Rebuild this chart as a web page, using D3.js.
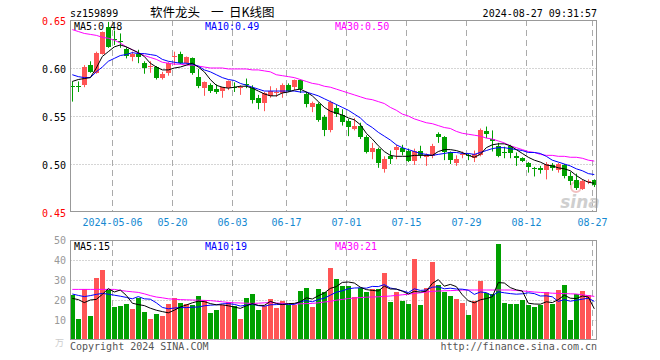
<!DOCTYPE html>
<html>
<head>
<meta charset="utf-8">
<script src="https://cdn.jsdelivr.net/npm/d3@7"></script>
<style>
  body { margin: 0; background: #fff; }
  svg { display: block; }
</style>
</head>
<body>
<div id="chart"></div>
<script>
// --- trading days shown (2024-04-22 .. 2024-08-27) ---
const dates = [
  "2024-04-22","2024-04-23","2024-04-24","2024-04-25","2024-04-26","2024-04-29","2024-04-30",
  "2024-05-06","2024-05-07","2024-05-08","2024-05-09","2024-05-10","2024-05-13","2024-05-14","2024-05-15","2024-05-16","2024-05-17",
  "2024-05-20","2024-05-21","2024-05-22","2024-05-23","2024-05-24","2024-05-27","2024-05-28","2024-05-29","2024-05-30","2024-05-31",
  "2024-06-03","2024-06-04","2024-06-05","2024-06-06","2024-06-07","2024-06-11","2024-06-12","2024-06-13","2024-06-14",
  "2024-06-17","2024-06-18","2024-06-19","2024-06-20","2024-06-21","2024-06-24","2024-06-25","2024-06-26","2024-06-27","2024-06-28",
  "2024-07-01","2024-07-02","2024-07-03","2024-07-04","2024-07-05","2024-07-08","2024-07-09","2024-07-10","2024-07-11","2024-07-12",
  "2024-07-15","2024-07-16","2024-07-17","2024-07-18","2024-07-19","2024-07-22","2024-07-23","2024-07-24","2024-07-25","2024-07-26",
  "2024-07-29","2024-07-30","2024-07-31","2024-08-01","2024-08-02","2024-08-05","2024-08-06","2024-08-07","2024-08-08","2024-08-09",
  "2024-08-12","2024-08-13","2024-08-14","2024-08-15","2024-08-16","2024-08-19","2024-08-20","2024-08-21","2024-08-22","2024-08-23",
  "2024-08-26","2024-08-27"
];

// --- OHLC ---
const open = [
  0.581,0.581,0.582,0.603,0.595,0.615,0.643,0.630,0.628,0.620,
  0.611,0.615,0.605,0.601,0.601,0.590,0.595,0.611,0.615,0.605,
  0.610,0.591,0.579,0.582,0.578,0.576,0.579,0.580,0.579,0.583,
  0.579,0.569,0.564,0.571,0.574,0.574,0.582,0.580,0.587,0.573,
  0.559,0.563,0.549,0.535,0.558,0.551,0.545,0.536,0.540,0.528,
  0.513,0.516,0.495,0.508,0.515,0.517,0.514,0.503,0.514,0.507,
  0.508,0.531,0.528,0.512,0.501,0.509,0.509,0.506,0.509,0.534,
  0.526,0.519,0.513,0.519,0.508,0.506,0.501,0.496,0.496,0.494,
  0.499,0.494,0.499,0.487,0.483,0.474,0.481,0.483
];
const high = [
  0.586,0.586,0.603,0.607,0.617,0.638,0.648,0.639,0.636,0.622,
  0.617,0.619,0.607,0.607,0.602,0.596,0.606,0.617,0.617,0.612,
  0.611,0.599,0.586,0.584,0.583,0.580,0.587,0.585,0.582,0.589,
  0.582,0.572,0.575,0.581,0.579,0.584,0.584,0.588,0.588,0.575,
  0.565,0.564,0.551,0.566,0.562,0.557,0.547,0.548,0.543,0.530,
  0.522,0.517,0.508,0.514,0.520,0.520,0.516,0.516,0.519,0.511,
  0.521,0.533,0.529,0.513,0.509,0.513,0.511,0.514,0.537,0.539,
  0.535,0.522,0.518,0.520,0.512,0.507,0.502,0.497,0.498,0.502,
  0.501,0.501,0.500,0.492,0.490,0.484,0.484,0.484
];
const low = [
  0.565,0.575,0.580,0.595,0.594,0.614,0.621,0.624,0.621,0.610,
  0.607,0.605,0.594,0.595,0.588,0.588,0.592,0.603,0.604,0.604,
  0.593,0.579,0.571,0.574,0.573,0.569,0.577,0.575,0.572,0.579,
  0.563,0.557,0.555,0.569,0.570,0.569,0.575,0.577,0.574,0.559,
  0.554,0.544,0.529,0.533,0.549,0.540,0.529,0.535,0.526,0.511,
  0.505,0.496,0.491,0.500,0.505,0.509,0.502,0.499,0.506,0.498,
  0.506,0.522,0.504,0.500,0.498,0.506,0.504,0.502,0.508,0.527,
  0.513,0.507,0.506,0.506,0.498,0.502,0.491,0.487,0.490,0.484,
  0.493,0.491,0.485,0.478,0.473,0.473,0.479,0.476
];
const close = [
  0.580,0.580,0.601,0.596,0.616,0.637,0.622,0.629,0.627,0.612,
  0.615,0.611,0.600,0.602,0.590,0.594,0.605,0.613,0.605,0.611,
  0.595,0.581,0.585,0.576,0.575,0.580,0.586,0.579,0.580,0.582,
  0.567,0.564,0.574,0.576,0.575,0.582,0.576,0.587,0.578,0.562,
  0.564,0.546,0.535,0.565,0.552,0.544,0.539,0.540,0.528,0.513,
  0.517,0.501,0.505,0.505,0.518,0.512,0.503,0.514,0.509,0.509,
  0.519,0.528,0.512,0.504,0.505,0.510,0.508,0.510,0.535,0.531,
  0.524,0.508,0.512,0.511,0.506,0.503,0.497,0.495,0.494,0.500,
  0.496,0.500,0.488,0.482,0.475,0.482,0.482,0.478
];

// --- price moving averages ---
const ma5 = [
  0.586,0.588,0.589,0.590,0.600,0.612,0.617,0.622,0.624,0.622,
  0.619,0.616,0.612,0.605,0.601,0.598,0.598,0.600,0.601,0.603,
  0.605,0.601,0.596,0.588,0.582,0.580,0.579,0.580,0.581,0.581,
  0.579,0.576,0.573,0.571,0.571,0.574,0.575,0.577,0.578,0.575,
  0.571,0.565,0.559,0.555,0.553,0.551,0.548,0.546,0.541,0.532,
  0.526,0.519,0.513,0.509,0.508,0.508,0.508,0.509,0.509,0.509,
  0.509,0.513,0.515,0.515,0.514,0.512,0.509,0.507,0.510,0.517,
  0.520,0.521,0.521,0.519,0.515,0.511,0.507,0.504,0.502,0.499,
  0.498,0.496,0.495,0.493,0.488,0.484,0.481,0.480
];
const ma10 = [
  0.593,0.591,0.590,0.590,0.596,0.601,0.607,0.610,0.613,0.614,
  0.616,0.615,0.615,0.614,0.613,0.609,0.607,0.606,0.605,0.605,
  0.604,0.602,0.598,0.596,0.593,0.590,0.588,0.587,0.584,0.582,
  0.580,0.578,0.576,0.576,0.576,0.576,0.576,0.576,0.575,0.575,
  0.573,0.571,0.568,0.565,0.562,0.559,0.556,0.552,0.548,0.542,
  0.538,0.533,0.529,0.525,0.520,0.517,0.515,0.513,0.511,0.510,
  0.509,0.510,0.511,0.512,0.512,0.511,0.511,0.510,0.512,0.514,
  0.516,0.517,0.517,0.516,0.515,0.514,0.512,0.512,0.511,0.508,
  0.504,0.502,0.500,0.498,0.495,0.493,0.490,0.489
];
const ma30 = [
  0.640,0.638,0.636,0.635,0.634,0.632,0.631,0.629,0.626,0.622,
  0.619,0.616,0.613,0.611,0.609,0.606,0.605,0.604,0.604,0.603,
  0.603,0.602,0.601,0.600,0.600,0.600,0.599,0.599,0.599,0.599,
  0.598,0.598,0.597,0.596,0.593,0.592,0.591,0.590,0.588,0.586,
  0.584,0.583,0.581,0.580,0.578,0.576,0.574,0.572,0.570,0.568,
  0.567,0.565,0.563,0.559,0.556,0.552,0.550,0.547,0.545,0.543,
  0.542,0.540,0.538,0.537,0.534,0.532,0.531,0.530,0.529,0.527,
  0.526,0.524,0.522,0.519,0.517,0.515,0.513,0.512,0.510,0.509,
  0.509,0.508,0.508,0.507,0.507,0.506,0.504,0.503
];

// --- volume (万) and its moving averages ---
const volume = [
  22.5,10.5,25.3,12,31.2,35,25,16.7,17,18,
  15.5,21.2,14.2,10.5,13,12.2,18,20.8,18.7,17.8,
  17.5,22,20,13.7,15,17.5,19.2,17,10.5,21.2,
  23,15,17,20.5,16.2,19.7,17.5,17.5,24.5,26.2,
  16.7,25.7,24.2,36.2,30.5,27.2,27,21.7,25.8,24.2,
  25.3,25.3,33.7,19.2,24.2,19.7,18,40.5,17.5,26.2,
  39.2,27.5,24.2,22,20.5,18.7,12.5,19.5,29.5,23.3,
  23,48,18.7,18,18,20,17.5,16.3,17.5,24.2,
  18,25,27.5,10,23,24.5,22.5,0.5
];
const volMa5 = [
  20.8,20.2,18.7,20,20.3,22.8,25.7,24,25,22.3,
  18.4,17.7,17.2,15.9,14.9,14.2,13.6,14.9,16.5,17.5,
  18.6,19.4,19.2,18.2,17.6,17.6,17.1,16.5,15.8,17.1,
  18.2,17.3,17.3,19.3,18.3,17.7,18.2,18.3,19.1,21.1,
  20.5,22.1,23.5,25.8,26.7,28.8,29,28.5,26.4,25.2,
  24.8,24.5,26.9,25.5,25.5,24.4,23,24.3,24,24.4,
  28.3,30.2,26.9,27.8,26.7,22.6,19.6,18.6,20.1,20.7,
  21.6,28.7,28.5,26.2,25.1,24.5,18.4,18,17.9,19.1,
  18.7,20.2,22.4,20.9,20.7,22,21.5,15.6
];
const volMa10 = [
  23,22.3,21.7,22.2,22.8,23.3,22.9,22.4,21.9,21.3,
  20.6,21.7,20.6,20.4,18.6,16.3,15.6,16,16.2,16.2,
  16.4,16.5,17.1,17.4,17.6,18.1,18.2,17.8,17,17.4,
  17.9,17.2,16.9,17.6,17.7,17.9,17.8,17.8,19.2,19.7,
  19.1,20.2,20.9,22.4,23.9,24.6,25.6,26,26.1,25.9,
  26.8,26.7,27.7,26,25.4,24.6,23.7,25.6,24.8,25,
  26.4,26.6,25.6,25.9,25.5,25.4,24.9,22.8,24,23.7,
  22.1,24.1,23.6,23.2,22.9,23.1,23.6,23.2,22,22.1,
  21.6,19.3,20.2,19.4,19.9,20.4,20.9,19.3
];
const volMa30 = [
  25.3,25.3,25.3,25.3,25.3,25.3,25.3,25.3,24.8,24.4,
  24.1,23.8,23.1,22.2,21.5,21.1,20.6,20.4,20.2,20.1,
  20,19.9,19.8,19.7,19.4,19.1,18.8,18.6,18.5,18.4,
  18.3,18.4,18.6,18.7,18.5,18.3,18.1,18,18.1,18.2,
  18.3,18.6,19,19.3,19.9,20.3,20.7,21,21.2,21.4,
  21.5,21.6,21.8,22,22.3,22.6,22.9,23.3,23.6,24,
  24.3,24.5,24.6,24.7,24.8,25,25,25,25,25,
  25,25,25,25,24.8,24.5,24.3,24,23.8,23.6,
  23.4,23.3,23.2,23.1,23,22.6,22.2,21.8
];

// --- axis ticks ---
const priceTicks = [0.65, 0.60, 0.55, 0.50, 0.45];
const volTicks = [50, 40, 30, 20, 10];
const dateTicks = ["2024-05-06","2024-05-20","2024-06-03","2024-06-17","2024-07-01","2024-07-15","2024-07-29","2024-08-12","2024-08-27"];
const dateTickLabels = ["2024-05-06","05-20","06-03","06-17","07-01","07-15","07-29","08-12","08-27"];

// --- setup ---
const W = 660, H = 360;
const mono = "'DejaVu Sans Mono', 'Liberation Mono', monospace";
const cjk = "'Noto Sans CJK SC', sans-serif";
const RED = "#ff5555", GREEN = "#00a000";

const svg = d3.select("#chart").append("svg")
  .attr("width", W).attr("height", H)
  .style("font-family", mono);

const x = d3.scaleBand().domain(dates).range([69.3, 597.3]).paddingInner(0.17).paddingOuter(0.085);
const cx = d => x(d) + x.bandwidth() / 2;
const yP = d3.scaleLinear().domain([0.45, 0.65]).range([212, 20]);
const yV = d3.scaleLinear().domain([0, 50]).range([340, 240]);

const L = 70.5, R = 596.5;

// --- header texts ---
svg.append("text").attr("x", 70).attr("y", 16.5).attr("font-size", "10px").attr("fill", "#000").text("sz159899");
// title is spread out like the original: name, dash, chart type
[[150, "软件龙头"], [211, "一"], [229, "日K线图"]].forEach(([tx, t]) => {
  svg.append("text").attr("x", tx).attr("y", 16.5)
    .attr("font-family", cjk).attr("font-size", "12.5px").attr("fill", "#000").text(t);
});
svg.append("text").attr("x", 597).attr("y", 16.5).attr("text-anchor", "end").attr("font-size", "10px").attr("fill", "#000")
  .text("2024-08-27 09:31:57");

// --- grids ---
function hGrid(scale, ticks, skip) {
  ticks.filter(t => !skip.includes(t)).forEach(t => {
    const yy = Math.round(scale(t)) + 0.5;
    svg.append("line").attr("x1", L).attr("x2", R).attr("y1", yy).attr("y2", yy)
      .attr("stroke", "#aaa").attr("stroke-dasharray", "1,2");
  });
}
hGrid(yP, priceTicks, [0.65, 0.45]);
hGrid(yV, volTicks, [50]);

dateTicks.forEach(d => {
  const gx = Math.floor(cx(d) - 1.6) + 0.5;
  [[20, 212], [240, 340]].forEach(([a, b]) => {
    svg.append("line").attr("x1", gx).attr("x2", gx).attr("y1", a).attr("y2", b)
      .attr("stroke", "#aaa").attr("stroke-dasharray", "6,4");
  });
});

// --- watermark ---
svg.append("circle").attr("cx", 576).attr("cy", 187).attr("r", 5)
  .attr("fill", "none").attr("stroke", "#f3c0c0").attr("stroke-width", 2);
svg.append("text").attr("x", 580).attr("y", 208).attr("text-anchor", "middle")
  .attr("font-family", "'DejaVu Sans', sans-serif").attr("font-style", "italic").attr("font-weight", "bold")
  .attr("font-size", "17px").attr("fill", "#cfcfcf").text("sina");

// --- MA legends (drawn under the marks) ---
const last = dates.length - 1;
function legend(y, items) {
  items.forEach(([lx, txt, col]) => {
    svg.append("text").attr("x", lx).attr("y", y).attr("font-size", "10px").attr("fill", col).text(txt);
  });
}
legend(29.5, [
  [74, "MA5:" + ma5[last].toFixed(2), "#000"],
  [205, "MA10:" + ma10[last].toFixed(2), "#0000ff"],
  [335, "MA30:" + ma30[last].toFixed(2), "#ff00ff"]
]);
legend(249.5, [
  [74, "MA5:" + Math.floor(volMa5[last]), "#000"],
  [205, "MA10:" + Math.floor(volMa10[last]), "#0000ff"],
  [335, "MA30:" + Math.floor(volMa30[last]), "#ff00ff"]
]);

// --- candles ---
const candles = svg.append("g");
dates.forEach((d, i) => {
  const col = close[i] > open[i] ? RED : GREEN;
  const wx = Math.floor(cx(d)) + 0.5;
  candles.append("line").attr("x1", wx).attr("x2", wx)
    .attr("y1", yP(high[i])).attr("y2", yP(low[i])).attr("stroke", col);
  const top = yP(Math.max(open[i], close[i]));
  const h = Math.max(1, Math.abs(yP(open[i]) - yP(close[i])));
  candles.append("rect").attr("x", x(d)).attr("width", x.bandwidth())
    .attr("y", top).attr("height", h).attr("fill", col).attr("shape-rendering", "crispEdges");
});

// --- volume bars ---
dates.forEach((d, i) => {
  const col = close[i] > open[i] ? RED : GREEN;
  svg.append("rect").attr("x", x(d)).attr("width", x.bandwidth())
    .attr("y", yV(volume[i])).attr("height", yV(0) - yV(volume[i]))
    .attr("fill", col).attr("shape-rendering", "crispEdges");
});

// --- moving average lines ---
function maLine(values, scale, color) {
  const line = d3.line().x((v, i) => cx(dates[i])).y(v => scale(v));
  svg.append("path").datum(values).attr("d", line)
    .attr("fill", "none").attr("stroke", color).attr("stroke-width", 1);
}
maLine(ma30, yP, "#ff00ff");
maLine(ma10, yP, "#0000ff");
maLine(ma5, yP, "#000");
maLine(volMa30, yV, "#ff00ff");
maLine(volMa10, yV, "#0000ff");
maLine(volMa5, yV, "#000");

// --- frames ---
svg.append("rect").attr("x", L).attr("y", 20.5).attr("width", R - L).attr("height", 191)
  .attr("fill", "none").attr("stroke", "#999");
svg.append("rect").attr("x", L).attr("y", 240.5).attr("width", R - L).attr("height", 99)
  .attr("fill", "none").attr("stroke", "#999");

// --- axis labels ---
priceTicks.forEach(t => {
  svg.append("text").attr("x", 66).attr("y", yP(t) + 4.5).attr("text-anchor", "end")
    .attr("font-size", "10px").attr("fill", (t === 0.65 || t === 0.45) ? "#ff0000" : "#000")
    .text(t.toFixed(2));
});
volTicks.forEach(t => {
  svg.append("text").attr("x", 66).attr("y", yV(t) + 4).attr("text-anchor", "end")
    .attr("font-size", "10px").attr("fill", "#999").text(t);
});
svg.append("text").attr("x", 64).attr("y", 346).attr("text-anchor", "end")
  .attr("font-family", cjk).attr("font-size", "9px").attr("fill", "#ccc").text("万");

dateTicks.forEach((d, k) => {
  const gx = Math.floor(cx(d) - 1.6) + 0.5;
  svg.append("text").attr("x", gx).attr("y", 225.5).attr("text-anchor", "middle")
    .attr("font-size", "10px").attr("fill", "#1589d1").text(dateTickLabels[k]);
});

// --- footer ---
svg.append("text").attr("x", 70).attr("y", 349.5).attr("font-size", "10px").attr("fill", "#555")
  .text("Copyright 2024 SINA.COM");
svg.append("text").attr("x", 597).attr("y", 349.5).attr("text-anchor", "end").attr("font-size", "10px").attr("fill", "#555")
  .text("http://finance.sina.com.cn");
</script>
</body>
</html>
